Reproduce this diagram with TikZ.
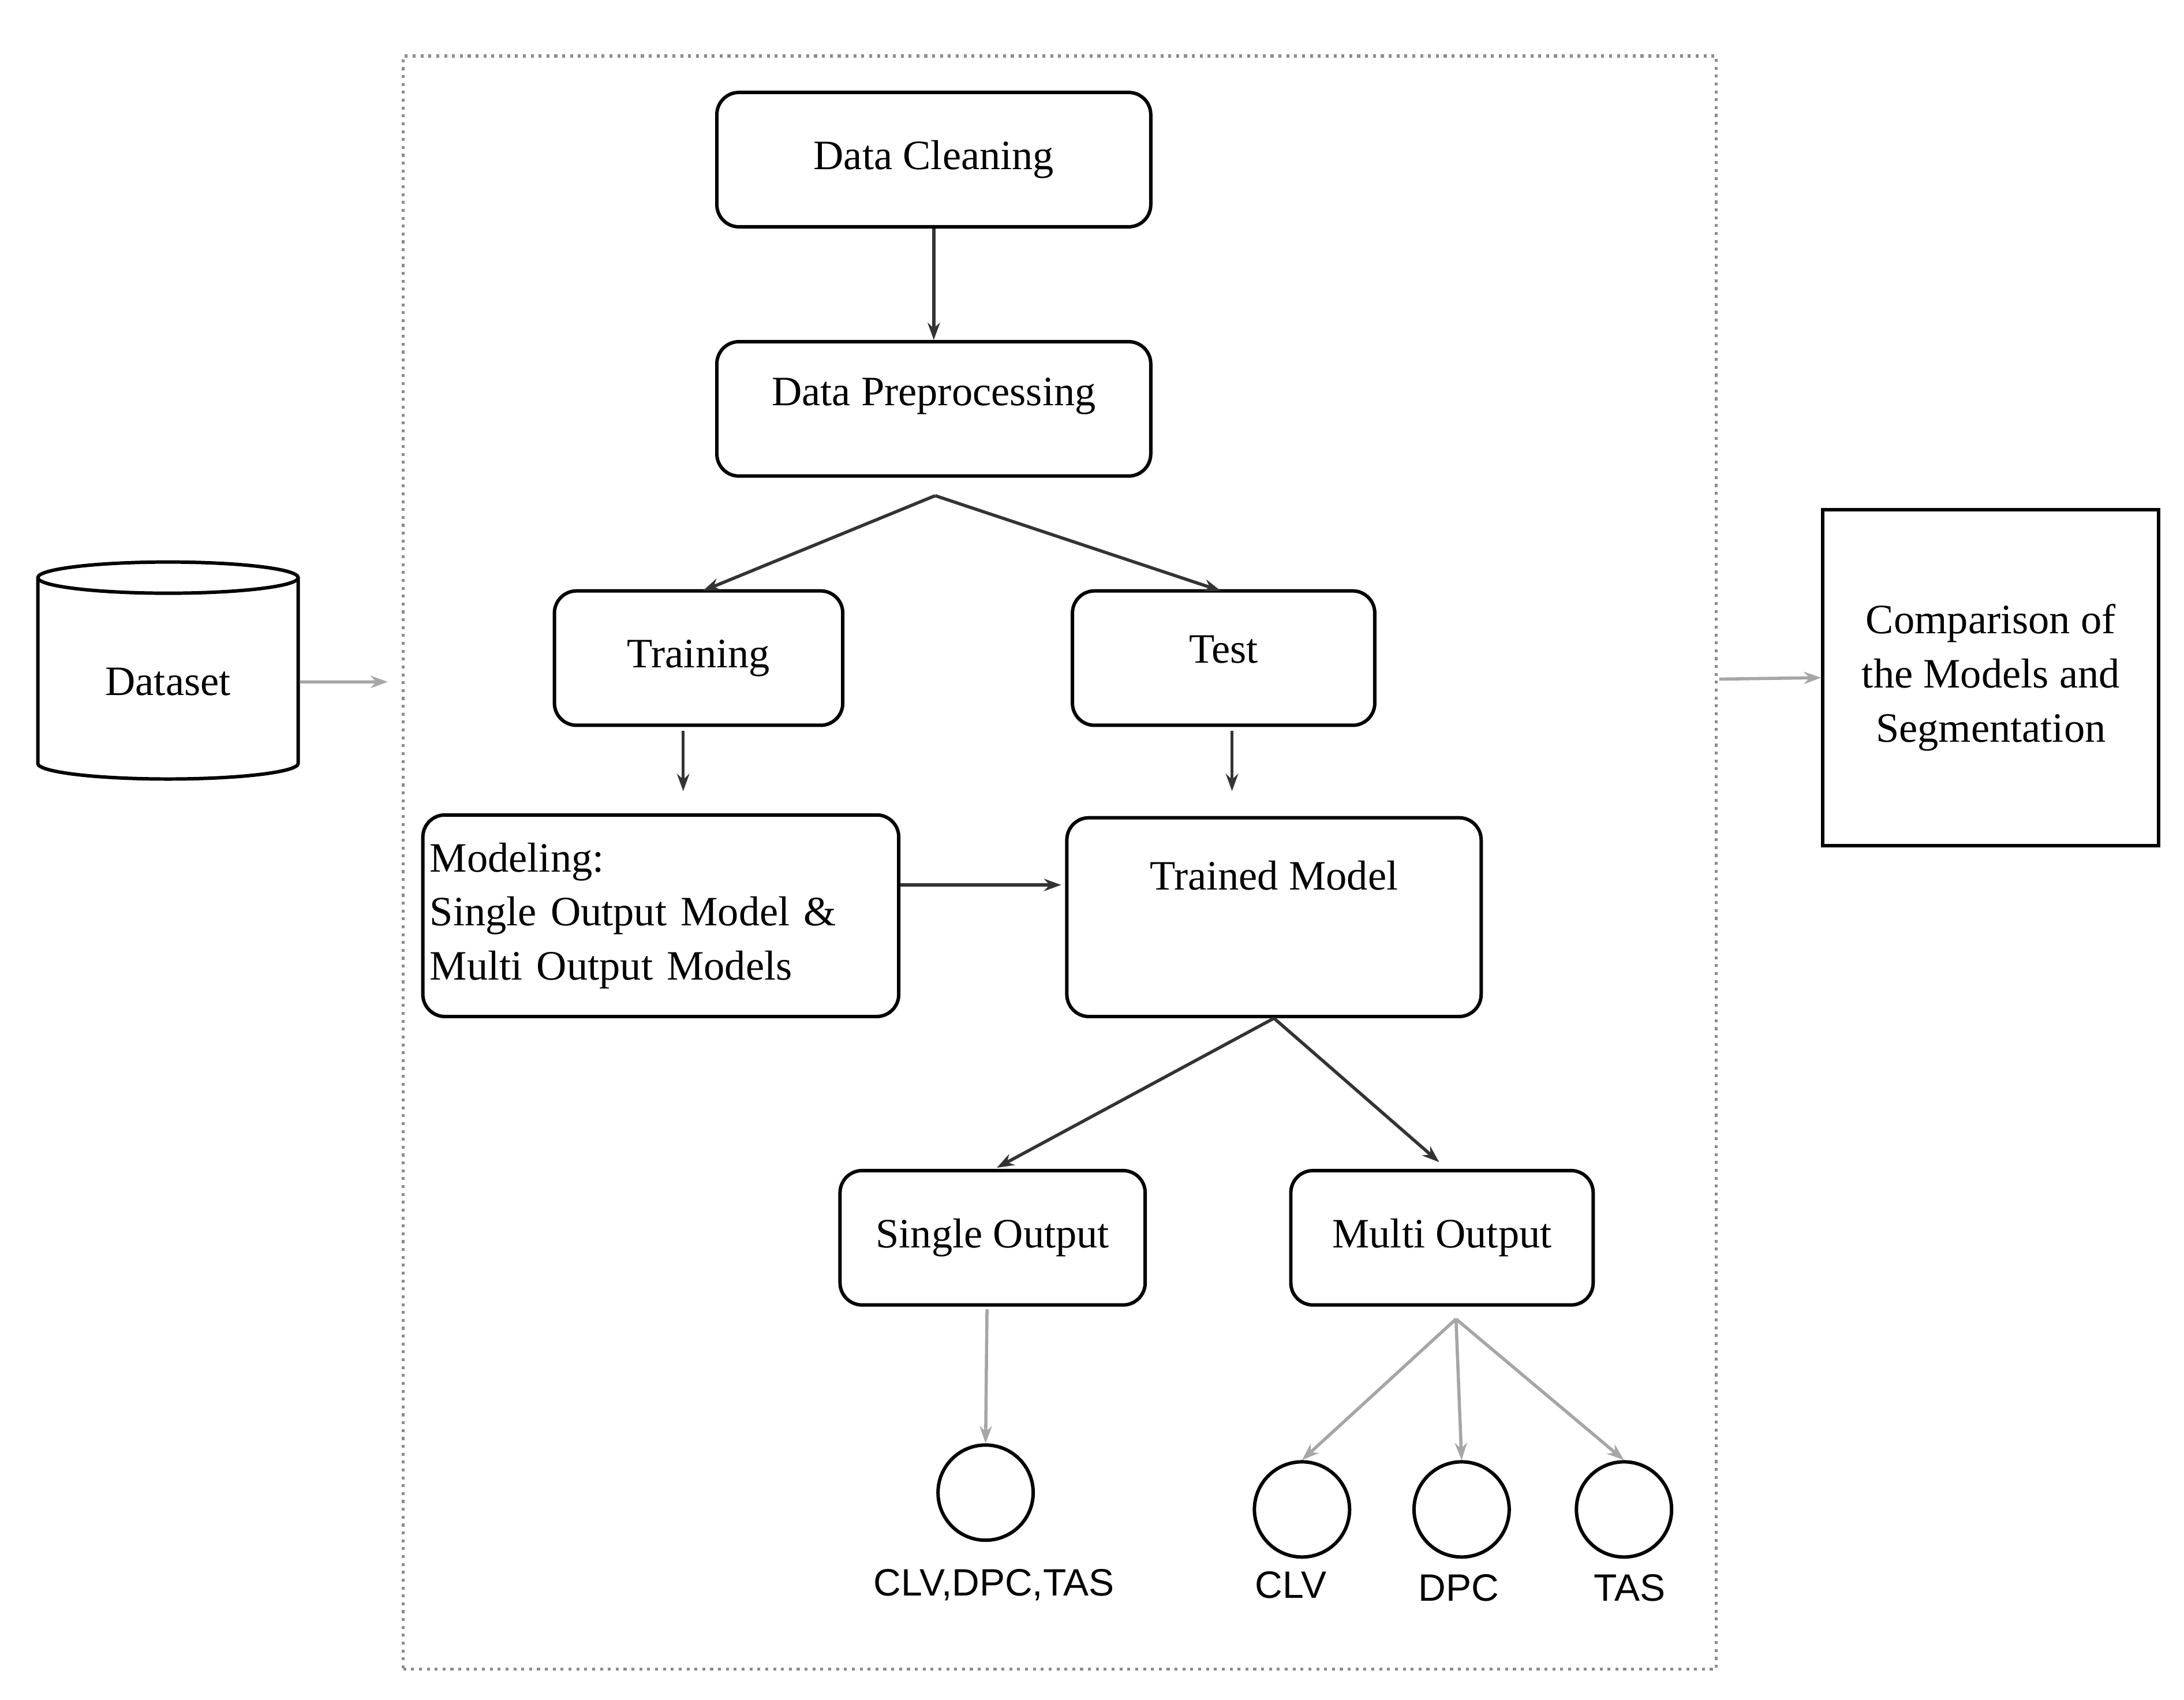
\documentclass[tikz,border=0pt]{standalone}
\usepackage{fontspec}
\setmainfont{Liberation Serif}
\newfontfamily\sansf{Liberation Sans}
\usetikzlibrary{arrows.meta,shapes.geometric}
\begin{document}
\begin{tikzpicture}[x=0.02cm,y=-0.02cm,
  box/.style={draw,line width=1.4pt,rounded corners=9pt,inner sep=0pt,font=\fontsize{17}{20}\selectfont},
  blk/.style={-{Stealth[length=7pt,width=5pt]},line width=1.3pt,black!80},
  gry/.style={-{Stealth[length=7pt,width=5pt]},line width=1.3pt,black!35},
  circ/.style={draw,circle,line width=1.4pt,minimum size=1.36cm,inner sep=0pt},
  lab/.style={font=\sansf\fontsize{15.5}{18}\selectfont}]
\useasboundingbox (0,0) rectangle (1560,1214);
\node[draw=black!45,dotted,line width=1.2pt,minimum width=938*0.02cm,minimum height=1152*0.02cm] (frame) at (757,616) {};
\node[box,minimum width=6.2cm,minimum height=1.92cm] (dc) at (667,114) {Data Cleaning};
\node[box,minimum width=6.2cm,minimum height=1.92cm,text depth=14pt] (dp) at (667,292) {Data Preprocessing};
\node[box,minimum width=4.12cm,minimum height=1.92cm] (tr) at (499,470) {Training};
\node[box,minimum width=4.32cm,minimum height=1.92cm,text depth=7pt] (te) at (874,470) {Test};
\node[box,minimum width=6.8cm,minimum height=2.88cm,align=left,text width=6.6cm,font=\fontsize{17}{22}\selectfont] (mo) at (472,654) {\raggedright Modeling:\\Single Output Model \&\\Multi Output Models};
\node[box,minimum width=5.92cm,minimum height=2.84cm,text depth=34pt] (tm) at (910,655) {Trained Model};
\node[box,minimum width=4.36cm,minimum height=1.92cm] (so) at (709,884) {Single Output};
\node[box,minimum width=4.32cm,minimum height=1.92cm] (mu) at (1030,884) {Multi Output};
\node[circ] (c0) at (704,1066) {};
\node[circ] (c1) at (930,1078) {};
\node[circ] (c2) at (1044,1078) {};
\node[circ] (c3) at (1160,1078) {};
\node[lab] (l0) at (710,1132) {CLV,DPC,TAS};
\node[lab] (l1) at (922,1132) {CLV};
\node[lab] (l2) at (1042,1134) {DPC};
\node[lab] (l3) at (1164,1134) {TAS};
\node[draw,cylinder,shape border rotate=90,aspect=0.22,line width=1.4pt,minimum width=3.72cm,minimum height=3.1cm,font=\fontsize{17}{20}\selectfont] (ds) at (120,487) {Dataset};
\node[draw,line width=1.4pt,minimum width=4.8cm,minimum height=4.8cm,align=center,font=\fontsize{17}{22}\selectfont] (cm) at (1422,484) {Comparison of\\the Models and\\Segmentation};
\coordinate (fl) at (277,487);
\coordinate (fr) at (1228,485);
\coordinate (sp) at (668,354);
\coordinate (sp2) at (1040,942);
\draw[gry] (ds.east) -- (fl);
\draw[gry] (fr) -- (cm.west);
\draw[blk] (dc) -- (dp);
\draw[blk] (sp) -- (502,422);
\draw[blk] (sp) -- (872,422);
\draw[blk] (488,522) -- (488,565);
\draw[blk] (880,522) -- (880,565);
\draw[blk] (mo.east) ++(0,-22) -- (758,632);
\draw[blk] (tm.south) -- (712,834);
\draw[blk] (tm.south) -- (1028,830);
\draw[gry] (705,935) -- (c0.north);
\draw[gry] (sp2) -- (c1.north);
\draw[gry] (sp2) -- (c2.north);
\draw[gry] (sp2) -- (c3.north);
\end{tikzpicture}
\end{document}
